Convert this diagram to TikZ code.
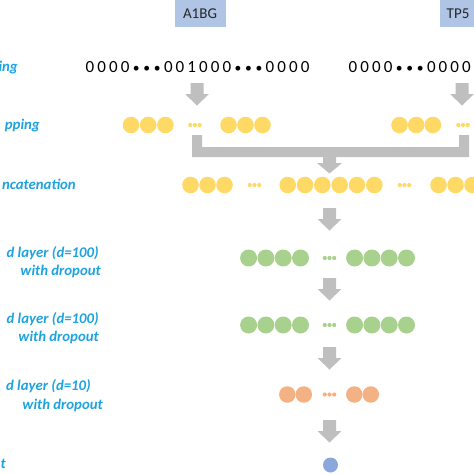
\documentclass[tikz,border=0pt]{standalone}
\usepackage{fontspec}
\setmainfont{Carlito}
\definecolor{lblue}{HTML}{1FA3DE}
\definecolor{cyellow}{HTML}{FFD966}
\definecolor{cgreen}{HTML}{A9D18E}
\definecolor{corange}{HTML}{F4B183}
\definecolor{cblue}{HTML}{8AA8DC}
\definecolor{cgray}{HTML}{BFBFBF}
\definecolor{gbox}{HTML}{B0C4E6}
\newcommand\spchars[1]{\spcloop#1\relax}
\def\spcloop#1{\ifx#1\relax\else\ifx#1•\makebox[10.5pt][c]{\scalebox{0.8}{#1}}\else\makebox[11.7pt][c]{#1}\fi\expandafter\spcloop\fi}
\begin{document}
\begin{tikzpicture}[x=1pt,y=-1pt,
  lbl/.style={font=\bfseries\itshape\fontsize{14.8}{16}\selectfont, text=lblue, inner sep=0pt, anchor=east},
  digits/.style={font=\fontsize{17}{19}\selectfont, inner sep=0pt, anchor=west},
  genebox/.style={fill=gbox, inner sep=0pt, font=\fontsize{15}{17}\selectfont, text=black!85},
  yc/.style={circle, fill=cyellow, minimum size=16.6pt, inner sep=0pt},
  gc/.style={circle, fill=cgreen, minimum size=17pt, inner sep=0pt},
  oc/.style={circle, fill=corange, minimum size=16.5pt, inner sep=0pt},
  bc/.style={circle, fill=cblue, minimum size=15pt, inner sep=0pt},
  darrow/.pic={\fill[cgray] (-6.5,0) -- (6.5,0) -- (6.5,11) -- (12,11) -- (0,22.5) -- (-12,11) -- (-6.5,11) -- cycle;},
  sdots/.pic={\fill[#1] (-4.7,0) circle (2.1) (0,0) circle (2.1) (4.7,0) circle (2.1);}]
\useasboundingbox (0,0) rectangle (474,474);

% gene boxes
\node[genebox, minimum width=51pt, minimum height=27pt] (a1bg) at (200,13.5) {A1BG};
\fill[gbox] (440,0) rectangle (474,27);
\node[font=\fontsize{15}{17}\selectfont, text=black!85, inner sep=0pt, anchor=west] (tp53) at (446.5,13.5) {TP5};

% labels
\node[lbl] (l1) at (18,68) {ing};
\node[lbl] (l2) at (40,126) {pping};
\node[lbl] (l3) at (76,184) {ncatenation};
\node[lbl] (l4) at (99,253) {d layer (d=100)};
\node[lbl] (l4b) at (101,271) {with dropout};
\node[lbl] (l5) at (99,319) {d layer (d=100)};
\node[lbl] (l5b) at (99,337) {with dropout};
\node[lbl] (l6) at (91,386) {d layer (d=10)};
\node[lbl] (l6b) at (103,405) {with dropout};
\node[lbl] (l7) at (6,464) {t};

% one-hot strings
\node[digits] (oh1) at (84,67) {\spchars{0000•••001000•••0000}};
\node[digits] (oh2) at (347,67) {\spchars{0000•••0000}};

% arrows from strings
\pic at (197,83) {darrow};
\pic at (462,83) {darrow};

% row 2: embedding circles
\foreach \x [count=\i] in {131,148.2,165.4} \node[yc] (ea\i) at (\x,125) {};
\pic at (195,125) {sdots=cyellow};
\foreach \x [count=\i] in {228.5,245.5,262.5} \node[yc] (eb\i) at (\x,125) {};
\foreach \x [count=\i] in {399.5,416.2,432.9} \node[yc] (ec\i) at (\x,125) {};
\pic at (463,125) {sdots=cyellow};

% bracket with arrow
\fill[cgray] (192,135) -- (202,135) -- (202,147) -- (459,147) -- (459,135) -- (469,135)
  -- (469,157) -- (336,157) -- (336,163) -- (342,163) -- (329.5,173.5) -- (317,163) -- (323,163) -- (323,157)
  -- (192,157) -- cycle;

% row 3: concatenation
\foreach \x [count=\i] in {190.5,207.5,224.5} \node[yc] (ca\i) at (\x,185) {};
\pic at (254.5,185) {sdots=cyellow};
\foreach \x [count=\i] in {287.7,305,322.3,339.7,357,374.3} \node[yc] (cb\i) at (\x,185) {};
\pic at (404.5,185) {sdots=cyellow};
\foreach \x [count=\i] in {438.5,455.5,472.5} \node[yc] (cc\i) at (\x,185) {};

\pic at (329.5,208) {darrow};

% row 4: dense 100
\foreach \x [count=\i] in {248.6,265.9,283.2,300.5} \node[gc] (da\i) at (\x,258) {};
\pic at (329.5,258) {sdots=cgreen};
\foreach \x [count=\i] in {354.6,371.9,389.2,406.5} \node[gc] (db\i) at (\x,258) {};

\pic at (329.5,278) {darrow};

% row 5: dense 100
\foreach \x [count=\i] in {248.6,265.9,283.2,300.5} \node[gc] (ga\i) at (\x,325) {};
\pic at (329.5,325) {sdots=cgreen};
\foreach \x [count=\i] in {354.6,371.9,389.2,406.5} \node[gc] (gb\i) at (\x,325) {};

\pic at (329.5,347) {darrow};

% row 6: dense 10
\foreach \x [count=\i] in {287.3,303.8} \node[oc] (fa\i) at (\x,394.5) {};
\pic at (329.5,394.5) {sdots=corange};
\foreach \x [count=\i] in {354.3,370.8} \node[oc] (fb\i) at (\x,394.5) {};

\pic at (329.5,420) {darrow};

% output
\node[bc] (out) at (330.5,465) {};
\end{tikzpicture}
\end{document}
